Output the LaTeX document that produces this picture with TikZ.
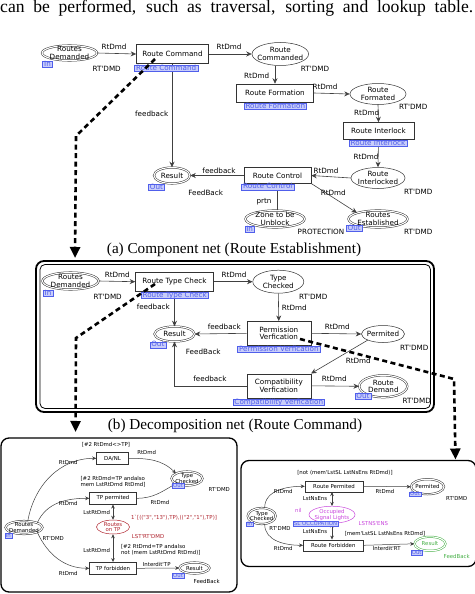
\documentclass[tikz,border=0pt]{standalone}
\usepackage{fontspec}
\setmainfont{Liberation Serif}
\newfontfamily\cpnfont{DejaVu Sans}
\usetikzlibrary{arrows.meta, positioning, shapes.geometric}
\definecolor{tagblue}{RGB}{80,95,235}
\definecolor{tagfill}{RGB}{200,205,250}
\definecolor{fusion}{RGB}{200,70,220}
\definecolor{tokred}{RGB}{175,35,45}
\definecolor{outgreen}{RGB}{70,175,70}
\newcommand{\bigtxt}{\fontsize{7.2}{7.6}\selectfont}
\newcommand{\smalltxt}{\fontsize{5.4}{5.8}\selectfont}
\newcommand{\captxt}{\fontsize{15.2}{17}\selectfont}
\newcommand{\bodytxt}{\fontsize{17.6}{20}\selectfont}

\begin{document}
\begin{tikzpicture}[x=1pt, y=-1pt, font=\cpnfont\bigtxt,
    place/.style={ellipse, draw=black!80, line width=0.5pt, inner xsep=-3pt, inner ysep=-2pt, align=center},
    ioplace/.style={place, double, double distance=1.1pt},
    subst/.style={rectangle, draw=black!80, line width=0.6pt, inner sep=0pt, align=center,
        append after command={[draw=black!80, line width=0.6pt]
            ([shift={(2.2pt,-2.2pt)}]\tikzlastnode.north west) rectangle ([shift={(-2.2pt,2.2pt)}]\tikzlastnode.south east)}},
    trans/.style={rectangle, draw=black!80, line width=0.5pt, inner sep=0pt},
    tag/.style={rectangle, draw=tagblue, fill=tagfill, text=tagblue, line width=0.4pt, inner xsep=1.5pt, inner ysep=0pt, text height=5.2pt, text depth=0.8pt},
    stag/.style={tag, inner xsep=1pt, text height=4pt, text depth=0.6pt},
    lbl/.style={inner sep=0pt},
    arc/.style={draw=black!75, line width=0.6pt, -{Stealth[length=5.5pt, width=5pt]}},
    sarc/.style={draw=black!75, line width=0.5pt, -{Stealth[length=4pt, width=3.6pt]}},
    biarc/.style={draw=black!75, line width=0.5pt, {Stealth[length=4pt, width=3.6pt]}-{Stealth[length=4pt, width=3.6pt]}},
    jump/.style={line width=2.6pt, dash pattern=on 5pt off 3.5pt, -{Triangle[length=11pt, width=10pt]}},
    capt/.style={font=\captxt, inner sep=0pt}
]
\useasboundingbox (0,0) rectangle (474,594);

% running text above the figure
\node[font=\bodytxt, inner sep=0pt, anchor=base west] (intro) at (0,12.5) {\makebox[473pt][s]{can be performed, such as traversal, sorting and lookup table.}};

% (a) component net
\node[ioplace, minimum width=55pt, minimum height=15pt] (rdA) at (69.5,53) {Routes\\Demanded};
\node[subst, minimum width=72pt, minimum height=19pt] (rcmdA) at (172.5,54) {Route Command};
\node[place, minimum width=56pt, minimum height=23pt] (rcomd) at (280.3,54) {Route\\Commanded};
\node[subst, minimum width=77pt, minimum height=18pt] (rform) at (275,93) {Route Formation};
\node[place, minimum width=56pt, minimum height=21pt] (rformd) at (378,94) {Route\\Formated};
\node[subst, minimum width=71pt, minimum height=17pt] (rilk) at (378.5,131) {Route Interlock};
\node[place, minimum width=54pt, minimum height=21pt] (rilkd) at (378,178) {Route\\Interlocked};
\node[subst, minimum width=67pt, minimum height=15.5pt] (rctl) at (277.5,175.5) {Route Control};
\node[ioplace, minimum width=36pt, minimum height=16pt] (resA) at (172,175.5) {Result};
\node[ioplace, minimum width=59pt, minimum height=17pt] (zone) at (275,219) {Zone to be\\Unblock};
\node[ioplace, minimum width=59pt, minimum height=17pt] (restab) at (378,219) {Routes\\Established};

\draw[arc] (rdA.east) -- (rcmdA.west);
\draw[arc] (rcmdA.east) -- (rcomd.west);
\draw[arc] (rcomd.south -| rform.north) -- (rform.north);
\draw[arc] (rform.east) -- (rformd.west);
\draw[arc] (rformd.south) -- (rilk.north);
\draw[arc] (rilk.south) -- (rilkd.north);
\draw[arc] (rilkd.west) -- (rctl.east);
\draw[arc] (rctl.south east) -- (restab.north west);
\draw[arc] (rctl.west) -- (resA.east);
\draw[arc] (rcmdA.south -| resA.north) -- (resA.north);
\draw[arc] (zone.north -| rctl.south) -- (rctl.south);

\node[lbl] (a1) at (114,47) {RtDmd};
\node[lbl] (a2) at (106.7,69.3) {RT'DMD};
\node[lbl] (a3) at (229,47) {RtDmd};
\node[lbl] (a4) at (315,69.3) {RT'DMD};
\node[lbl] (a5) at (256.7,76) {RtDmd};
\node[lbl] (a6) at (325,86.7) {RtDmd};
\node[lbl] (a7) at (413.3,107.3) {RT'DMD};
\node[lbl] (a8) at (366.7,113.3) {RtDmd};
\node[lbl] (a9) at (366,157.3) {RtDmd};
\node[lbl] (a10) at (326,170.7) {RtDmd};
\node[lbl] (a11) at (418.3,191.7) {RT'DMD};
\node[lbl] (a12) at (333.3,193.3) {RtDmd};
\node[lbl] (a13) at (151.7,114.3) {feedback};
\node[lbl] (a14) at (219,170.7) {feedback};
\node[lbl] (a15) at (205.7,192.7) {FeedBack};
\node[lbl] (a16) at (264,201.7) {prtn};
\node[lbl] (a17) at (321,231.7) {PROTECTION};
\node[lbl] (a18) at (418.3,231.7) {RT'DMD};

\node[tag] (tA1) at (47.5,64.5) {In};
\node[tag] (tA2) at (166.2,68) {Route Command};
\node[tag] (tA3) at (275.3,106) {Route Formation};
\node[tag] (tA4) at (378,143.3) {Route Interlock};
\node[tag] (tA5) at (267.8,186.7) {Route Control};
\node[tag] (tA6) at (156.5,187.2) {Out};
\node[tag] (tA7) at (249.7,228.8) {In};
\node[tag] (tA8) at (354.2,228.3) {Out};

\node[capt] (capA) at (234,250) {(a) Component net (Route Establishment)};

% (b) decomposition net
\draw[line width=1.8pt, rounded corners=8pt] (36,261) rectangle (434,412);
\draw[line width=0.8pt, rounded corners=5pt] (40,264.5) rectangle (430.5,408.5);

\node[ioplace, minimum width=56pt, minimum height=17pt] (rdB) at (70.5,281) {Routes\\Demanded};
\node[subst, minimum width=78pt, minimum height=19pt] (rtc) at (174.5,281.7) {Route Type Check};
\node[place, minimum width=51pt, minimum height=23pt] (tchk) at (278.3,281.7) {Type\\Checked};
\node[ioplace, minimum width=40pt, minimum height=15pt] (resB) at (174.5,334) {Result};
\node[subst, minimum width=64pt, minimum height=24pt] (pver) at (278.8,333.3) {Permission\\Verfication};
\node[place, minimum width=43pt, minimum height=17pt] (permd) at (383,334) {Permited};
\node[subst, minimum width=64pt, minimum height=24pt] (cver) at (278.8,385.8) {Compatibility\\Verfication};
\node[ioplace, minimum width=48pt, minimum height=22pt] (rdem) at (383.3,386.3) {Route\\Demand};

\draw[arc] (rdB.east) -- (rtc.west);
\draw[arc] (rtc.east) -- (tchk.west);
\draw[arc] (tchk.south) -- (pver.north);
\draw[arc] (pver.east) -- (permd.west);
\draw[arc] (permd.south west) -- (cver.north east);
\draw[arc] (cver.east) -- (rdem.west);
\draw[arc] (pver.west) -- (resB.east);
\draw[arc] (cver.west) -| (resB.south);
\draw[arc] (rtc.south) -- (resB.north);

\node[lbl] (b1) at (117.3,275) {RtDmd};
\node[lbl] (b2) at (107.7,297.3) {RT'DMD};
\node[lbl] (b3) at (234,275) {RtDmd};
\node[lbl] (b4) at (313.3,297.3) {RT'DMD};
\node[lbl] (b5) at (294.3,307.7) {RtDmd};
\node[lbl] (b6) at (337.3,326.7) {RtDmd};
\node[lbl] (b7) at (414.3,348.3) {RT'DMD};
\node[lbl] (b8) at (358.3,361) {RtDmd};
\node[lbl] (b9) at (334.3,379) {RtDmd};
\node[lbl] (b10) at (416.7,400.7) {RT'DMD};
\node[lbl] (b11) at (153.3,307.3) {feedback};
\node[lbl] (b12) at (224.3,326.7) {feedback};
\node[lbl] (b13) at (203.3,351.7) {FeedBack};
\node[lbl] (b14) at (210,379.3) {feedback};

\node[tag] (tB1) at (48,292.8) {In};
\node[tag] (tB2) at (174.7,295) {Route Type Check};
\node[tag] (tB3) at (157.8,344.7) {Out};
\node[tag] (tB4) at (278.8,349.2) {Permission Verfication};
\node[tag] (tB5) at (278.8,402) {Compatibility Verfication};
\node[tag] (tB6) at (363,395.8) {Out};

\node[capt] (capB) at (235,426) {(b) Decomposition net (Route Command)};

% lower left: Route Type Check page
\draw[line width=1.3pt, rounded corners=8pt] (1,438) rectangle (237,592);
\begin{scope}[font=\cpnfont\smalltxt]
\node[ioplace, minimum width=37pt, minimum height=13pt] (rdC) at (24,527.5) {Routes\\Demanded};
\node[trans, minimum width=32pt, minimum height=12pt] (danl) at (112.5,458.3) {DA/NL};
\node[trans, minimum width=47pt, minimum height=12pt] (tpp) at (113,498.3) {TP permited};
\node[place, draw=tokred, text=tokred, minimum width=33pt, minimum height=14pt] (rot) at (113,527) {Routes\\on TP};
\node[trans, minimum width=47pt, minimum height=12pt] (tpf) at (113,568.3) {TP forbidden};
\node[ioplace, minimum width=31pt, minimum height=14pt] (tchkC) at (187,478.5) {Type\\Checked};
\node[ioplace, minimum width=30pt, minimum height=11pt] (resC) at (194.5,568) {Result};

\draw[sarc] (rdC.60) to[out=80, in=180] (danl.west);
\draw[sarc] (rdC.north east) to[out=65, in=180] (tpp.west);
\draw[sarc] (rdC.south east) to[out=-65, in=180] (tpf.west);
\draw[sarc] (danl.east) to[out=0, in=135] (tchkC.north west);
\draw[sarc] (tpp.east) to[out=0, in=210] (tchkC.south west);
\draw[biarc] (tpp.south) -- (rot.north);
\draw[biarc] (rot.south) -- (tpf.north);
\draw[sarc] (tpf.east) -- (resC.west);

\node[lbl] (c1) at (106,445) {[\#2 RtDmd<>TP]};
\node[lbl] (c2) at (68.3,462.3) {RtDmd};
\node[lbl] (c3) at (146.7,452.3) {RtDmd};
\node[lbl, align=left] (c4) at (113,482) {[\#2 RtDmd=TP andalso\\mem LstRtDmd RtDmd]};
\node[lbl] (c5) at (68.3,503.3) {RtDmd};
\node[lbl] (c6) at (160,502.3) {RtDmd};
\node[lbl] (c7) at (219.3,489.3) {RT'DMD};
\node[lbl] (c8) at (96.7,512.3) {LstRtDmd};
\node[lbl, text=tokred] (c9) at (174,517.7) {1`[(("3","13"),TP),(("2","1"),TP)]};
\node[lbl, text=tokred] (c10) at (148,537) {LST'RT'DMD};
\node[lbl] (c11) at (53.3,539) {RT'DMD};
\node[lbl] (c12) at (96.7,550.7) {LstRtDmd};
\node[lbl, align=left] (c13) at (160.8,550) {[\#2 RtDmd=TP andalso\\not (mem LstRtDmd RtDmd)]};
\node[lbl] (c14) at (68.3,573.3) {RtDmd};
\node[lbl] (c15) at (156.7,564.3) {Interdit'TP};
\node[lbl] (c16) at (206.7,581.7) {FeedBack};

\node[stag] (tC1) at (8.3,535.5) {In};
\node[stag] (tC2) at (178,485.8) {Out};
\node[stag] (tC3) at (178,575.8) {Out};
\end{scope}

% lower right: Permission Verfication page
\draw[line width=1.3pt, rounded corners=8pt] (241,460.5) rectangle (476,566.5);
\begin{scope}[font=\cpnfont\smalltxt]
\node[ioplace, minimum width=28pt, minimum height=16pt] (tchkD) at (261.7,516) {Type\\Checked};
\node[trans, minimum width=58pt, minimum height=11pt] (rperm) at (334,486.3) {Route Permited};
\node[place, draw=fusion, text=fusion, minimum width=46pt, minimum height=17pt] (osl) at (332,514.7) {Occupied\\Signal Lights};
\node[trans, minimum width=60pt, minimum height=11pt] (rforb) at (333.3,545.3) {Route Forbidden};
\node[ioplace, minimum width=33pt, minimum height=15pt] (permdD) at (427.5,486.7) {Permited};
\node[ioplace, draw=outgreen, text=outgreen, minimum width=31pt, minimum height=14pt] (resD) at (430,543.8) {Result};

\draw[sarc] (tchkD.70) to[out=90, in=180] (rperm.west);
\draw[sarc] (tchkD.-70) to[out=-90, in=180] (rforb.west);
\draw[sarc] (rperm.east) -- (permdD.west);
\draw[biarc] (rperm.south -| osl.north) -- (osl.north);
\draw[biarc] (osl.south) -- (rforb.north -| osl.south);
\draw[sarc] (rforb.east) -- (resD.west);

\node[lbl] (d1) at (345,472.7) {[not (mem'LstSL LstNsEns RtDmd)]};
\node[lbl] (d2) at (283.3,491.7) {RtDmd};
\node[lbl] (d3) at (385,491.7) {RtDmd};
\node[lbl] (d4) at (456.7,498.3) {RT'DMD};
\node[lbl] (d5) at (315,498.3) {LstNsEns};
\node[lbl, text=fusion] (d6) at (298.3,510) {nil};
\node[lbl, text=fusion] (d7) at (373.3,523.3) {LSTNS'ENS};
\node[lbl] (d8) at (280,528.3) {RT'DMD};
\node[lbl] (d9) at (315,531.7) {LstNsEns};
\node[lbl] (d10) at (385,533.3) {[mem'LstSL LstNsEns RtDmd]};
\node[lbl] (d11) at (283.3,548.3) {RtDmd};
\node[lbl] (d12) at (386.7,548.3) {Interdit'RT};
\node[lbl, text=outgreen] (d13) at (456.7,556) {FeedBack};

\node[stag] (tD1) at (250,524.2) {In};
\node[stag] (tD2) at (315.5,523.7) {SL OCCUPATION};
\node[stag] (tD3) at (415,494.2) {Out};
\node[stag] (tD4) at (416.7,552.5) {Out};
\end{scope}

% hierarchy jumps
\coordinate (jA) at (155,59);
\coordinate (jAk) at (76,136);
\coordinate (jAe) at (75,258);
\coordinate (jB) at (155,284);
\coordinate (jBk) at (76,338);
\coordinate (jBe) at (75.5,432);
\coordinate (jC) at (300,339);
\coordinate (jCk) at (454,379);
\coordinate (jCe) at (455.5,459.5);
\draw[jump] (jA) -- (jAk) -- (jAe);
\draw[jump] (jB) -- (jBk) -- (jBe);
\draw[jump] (jC) -- (jCk) -- (jCe);
\end{tikzpicture}
\end{document}
